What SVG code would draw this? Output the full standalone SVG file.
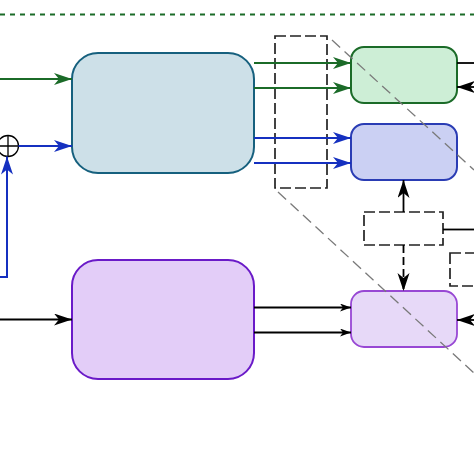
<svg xmlns="http://www.w3.org/2000/svg" width="474" height="474" viewBox="0 0 474 474">
<style>
.g{stroke:#1b6b28;stroke-width:2;fill:none}
.b{stroke:#1530c0;stroke-width:2;fill:none}
.k{stroke:#000;stroke-width:1.8;fill:none}
.kd{stroke:#000;stroke-width:1.8;fill:none;stroke-dasharray:8 4}
.dbox{stroke:#222;stroke-width:1.7;fill:none;stroke-dasharray:11 4}
.diag{stroke:#7a7a7a;stroke-width:1.3;fill:none;stroke-dasharray:11 6}
</style>
<defs>
<marker id="ag" markerUnits="userSpaceOnUse" markerWidth="20" markerHeight="14" refX="18" refY="6" orient="auto"><path d="M18,6 L0,0 L5,6 L0,12 Z" fill="#1b6b28"/></marker>
<marker id="ab" markerUnits="userSpaceOnUse" markerWidth="20" markerHeight="14" refX="18" refY="6" orient="auto"><path d="M18,6 L0,0 L5,6 L0,12 Z" fill="#1530c0"/></marker>
<marker id="ak" markerUnits="userSpaceOnUse" markerWidth="20" markerHeight="14" refX="18" refY="6" orient="auto"><path d="M18,6 L0,0 L5,6 L0,12 Z" fill="#000"/></marker>
<marker id="aks" markerUnits="userSpaceOnUse" markerWidth="14" markerHeight="10" refX="11" refY="4" orient="auto"><path d="M11,4 L0,0 L3,4 L0,8 Z" fill="#000"/></marker>
</defs>
<line x1="0" y1="14.5" x2="474" y2="14.5" stroke="#1b6b28" stroke-width="2" stroke-dasharray="5 5"/>
<g id="box-main"><rect x="72" y="53" width="182" height="120" rx="26" fill="#cde0e8" stroke="#16607e" stroke-width="2"/></g>
<g id="box-purple-big"><rect x="72" y="260" width="182" height="119" rx="26" fill="#e3cdf8" stroke="#6a1ac8" stroke-width="2"/></g>
<g id="box-green"><rect x="351" y="47" width="106" height="56" rx="13" fill="#cdeed6" stroke="#1b6b28" stroke-width="2"/></g>
<g id="box-blue"><rect x="351" y="124" width="106" height="56" rx="13" fill="#cbd0f3" stroke="#2a3cb4" stroke-width="2"/></g>
<g id="box-purple-small"><rect x="351" y="291" width="106" height="56" rx="13" fill="#e7d9f8" stroke="#9848d4" stroke-width="1.8"/></g>
<g id="dashed-tall"><rect class="dbox" x="275" y="36" width="52" height="152"/></g>
<g id="dashed-mid"><rect class="dbox" x="364" y="212" width="79" height="33"/></g>
<g id="dashed-right"><rect class="dbox" x="450" y="253" width="40" height="33"/></g>
<g id="sum"><circle cx="8" cy="146" r="10.5" fill="#fff" stroke="#000" stroke-width="1.3"/><path d="M-2.5,146 H18.5 M8,135.5 V156.5" stroke="#000" stroke-width="1.3"/></g>
<g id="connectors">
<line class="g" x1="0" y1="79" x2="72" y2="79" marker-end="url(#ag)"/>
<line class="b" x1="18.5" y1="146" x2="72" y2="146" marker-end="url(#ab)"/>
<polyline class="b" points="0,277 7,277 7,156.5" marker-end="url(#ab)"/>
<line class="g" x1="254" y1="63" x2="351" y2="63" marker-end="url(#ag)"/>
<line class="g" x1="254" y1="88" x2="351" y2="88" marker-end="url(#ag)"/>
<line class="b" x1="254" y1="138" x2="351" y2="138" marker-end="url(#ab)"/>
<line class="b" x1="254" y1="163" x2="351" y2="163" marker-end="url(#ab)"/>
<line class="k" x1="457" y1="63" x2="474" y2="63"/>
<line class="k" x1="480" y1="87" x2="457" y2="87" marker-end="url(#ak)"/>
<line class="k" x1="443" y1="229.5" x2="474" y2="229.5"/>
<line class="k" x1="403.5" y1="212" x2="403.5" y2="180" marker-end="url(#ak)"/>
<line class="kd" x1="403.5" y1="245" x2="403.5" y2="291" marker-end="url(#ak)"/>
<line class="k" x1="480" y1="320" x2="457" y2="320" marker-end="url(#ak)"/>
<line class="k" x1="0" y1="319.5" x2="72" y2="319.5" marker-end="url(#ak)"/>
<line class="k" x1="254" y1="307.5" x2="351" y2="307.5" marker-end="url(#aks)"/>
<line class="k" x1="254" y1="332.5" x2="351" y2="332.5" marker-end="url(#aks)"/>
</g>
<g id="diagonals">
<line class="diag" x1="332" y1="40" x2="474" y2="170"/>
<line class="diag" x1="278" y1="192" x2="474" y2="373"/>
</g>
</svg>
